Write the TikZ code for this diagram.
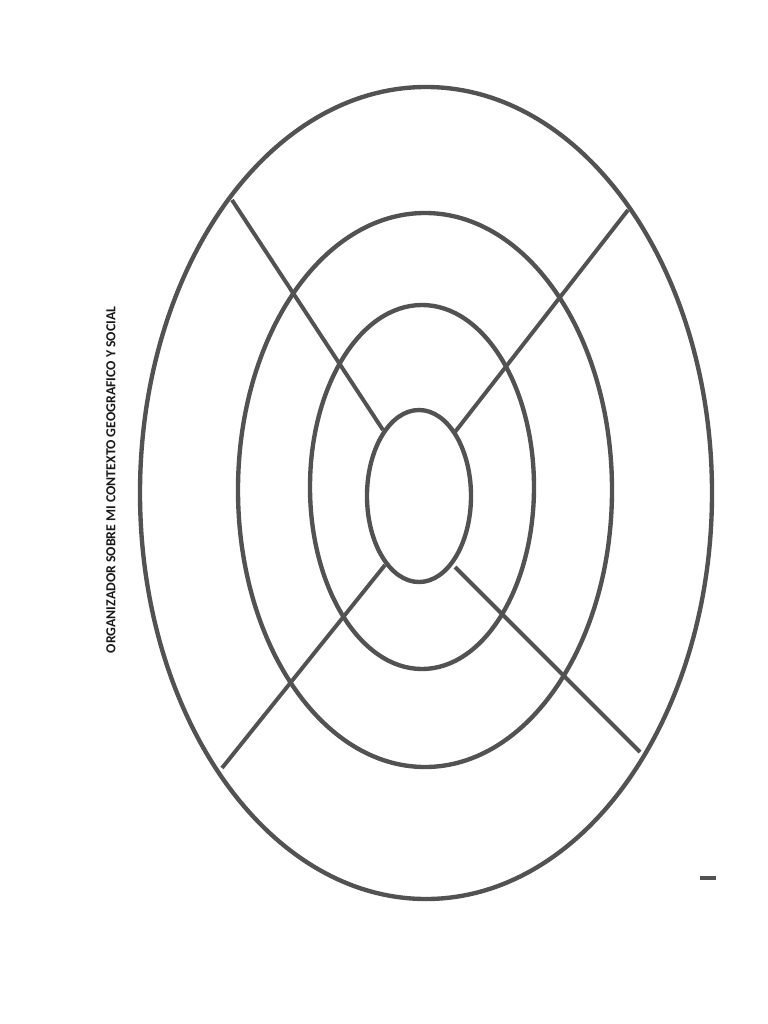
\documentclass[tikz,border=0pt]{standalone}
\usepackage{fontspec}
\setmainfont{Carlito}
\definecolor{ink}{RGB}{82,82,82}
\begin{document}
\begin{tikzpicture}[x=0.025cm,y=-0.025cm,ring/.style={draw=ink,line width=3.1pt},spoke/.style={draw=ink,line width=2.8pt}]
        \useasboundingbox (0,0) rectangle (768,1024);
        \fill[white] (0,0) rectangle (768,1024);
        \coordinate (O1) at (426,493);
        \coordinate (O2) at (425,490);
        \coordinate (O3) at (422,487);
        \coordinate (O4) at (419,496);
        \coordinate (UL) at (232,200);
        \coordinate (UL') at (383,430);
        \coordinate (UR) at (628,210);
        \coordinate (UR') at (455,432);
        \coordinate (LL) at (222,768);
        \coordinate (LL') at (385,565);
        \coordinate (LR) at (640,752);
        \coordinate (LR') at (455,567);
        \coordinate (M) at (700,878);
        \coordinate (M') at (716,878);
        \draw[ring] (O1) ellipse [x radius=286,y radius=406];
        \draw[ring] (O2) ellipse [x radius=187,y radius=277];
        \draw[ring] (O3) ellipse [x radius=112,y radius=182];
        \draw[ring] (O4) ellipse [x radius=52,y radius=86];
        \draw[spoke] (UL) -- (UL') (UR) -- (UR') (LL) -- (LL') (LR) -- (LR');
        \draw[ink,line width=2.2pt] (M) -- (M');
        \node[rotate=90,text=black!90,font=\bfseries\fontsize{9.8}{12}\selectfont] (title) at (111,480) {ORGANIZADOR SOBRE MI CONTEXTO GEOGRAFICO Y SOCIAL};
    \end{tikzpicture}
\end{document}
